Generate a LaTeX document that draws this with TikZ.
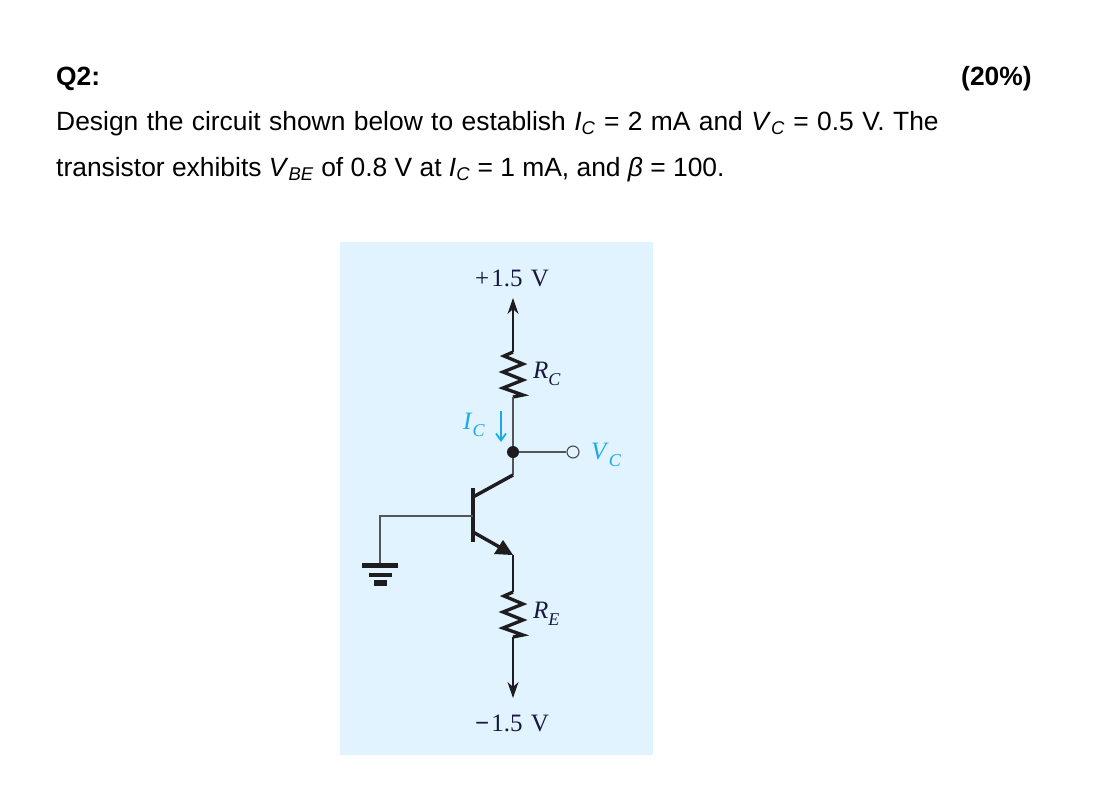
\documentclass[tikz,border=0pt]{standalone}
\usepackage{fontspec}
\setmainfont{Liberation Sans}
\newfontfamily\serifface{Liberation Serif}
\usetikzlibrary{positioning,arrows.meta}
\newcommand{\itsub}[2]{\textit{#1}\textsubscript{\textit{#2}}}
\newcommand{\labsub}[2]{\textit{#1}\raisebox{-6.5pt}{\fontsize{18}{18}\selectfont\textit{#2}}}
\definecolor{panelblue}{RGB}{224,243,254}
\definecolor{labelcyan}{RGB}{28,170,230}
\definecolor{inkblack}{RGB}{30,28,30}
\tikzset{
  para/.style={anchor=base west,inner sep=0pt,font=\fontsize{26.4}{30}\selectfont},
  val/.style={inner sep=0pt,text=inkblack!85!blue,font=\serifface\fontsize{25}{28}\selectfont},
  wire/.style={draw=inkblack!75,line width=1.2pt},
  thickwire/.style={draw=inkblack,line width=3.4pt},
  rail/.style={draw=inkblack,line width=1.2pt,-{Stealth[length=16pt,width=11pt,inset=5pt]}},
  gndbar/.style={fill=inkblack,draw=none},
  pics/zigres/.style={code={
    \draw[draw=inkblack,line width=3.3pt,line join=miter] (0,0) -- (-9,4) -- (10,12) -- (-10,20) -- (10,28) -- (-10,36) -- (10,43) -- (0,45);
  }}
}
\begin{document}
\begin{tikzpicture}[x=1pt,y=-1pt]
\useasboundingbox (0,0) rectangle (1110,787);
% text
\node[para,font=\bfseries\fontsize{26.4}{30}\selectfont] (title) at (56,85) {Q2:};
\node[para,font=\bfseries\fontsize{26.4}{30}\selectfont] (mark) at (961,85) {(20\%)};
\node[para] (line1) at (56,130) {\spaceskip=8.4pt Design the circuit shown below to establish \itsub{I}{C} = 2 mA and \itsub{V}{C} = 0.5 V. The};
\node[para] (line2) at (56,176) {transistor exhibits \itsub{V}{BE} of 0.8 V at \itsub{I}{C} = 1 mA, and \textit{β} = 100.};
% panel
\fill[panelblue] (340,242) rectangle (653,755);
% junction points
\coordinate (vcc) at (513,298);
\coordinate (rctop) at (513,352);
\coordinate (rcbot) at (513,397);
\coordinate (coll) at (513,475);
\coordinate (base) at (473,516);
\coordinate (corner) at (380,516);
\coordinate (gnd) at (380,563);
\coordinate (emit) at (473,532);
\coordinate (etip) at (513,555);
\coordinate (retop) at (513,592);
\coordinate (rebot) at (513,637);
\coordinate (vee) at (513,698);
\node[circle,fill=inkblack,minimum size=12pt,inner sep=0pt] (mid) at (513,452) {};
\node[circle,draw=inkblack!80,fill=panelblue,line width=1.1pt,minimum size=12pt,inner sep=0pt] (out) at (573,452) {};
% labels
\node[val] (vplus) at (512,278) {+\kern2pt 1.5\kern2pt{} V};
\node[val] (vminus) at (512,723) {\textbf{\textminus}\kern2pt 1.5\kern2pt{} V};
\node[val,anchor=west] (rc) at (533,374) {\labsub{R}{C}};
\node[val,anchor=west] (re) at (533,614) {\labsub{R}{E}};
\node[val,anchor=west,text=labelcyan] (ic) at (463,425) {\labsub{I}{C}};
\node[val,anchor=west,text=labelcyan] (vc) at (591,455) {\labsub{V}{C}};
% wires
\draw[rail] (rctop) -- (vcc);
\pic at (rctop) {zigres};
\draw[wire] (rcbot) -- (mid);
\draw[wire] (mid) -- (out);
\draw[wire] (mid) -- (coll);
\draw[thickwire] (coll) -- (473,497);
\draw[draw=inkblack,line width=3.6pt] (473,488) -- (473,542);
\draw[wire] (base) -- (corner) -- (gnd);
\draw[thickwire] (emit) -- (503,549);
\fill[inkblack] (etip) -- (503,540) -- (494,554) -- cycle;
\draw[draw=inkblack,line width=1.2pt] (etip) -- (retop);
\pic at (retop) {zigres};
\draw[rail] (rebot) -- (vee);
\draw[draw=labelcyan,line width=1.8pt,-{Straight Barb[length=7pt,width=10pt]}] (501,411) -- (501,442);
% ground
\fill[gndbar] (362,563) rectangle (398,568);
\fill[gndbar] (369,572.5) rectangle (392,577);
\fill[gndbar] (374,580) rectangle (387,586);
\end{tikzpicture}
\end{document}
